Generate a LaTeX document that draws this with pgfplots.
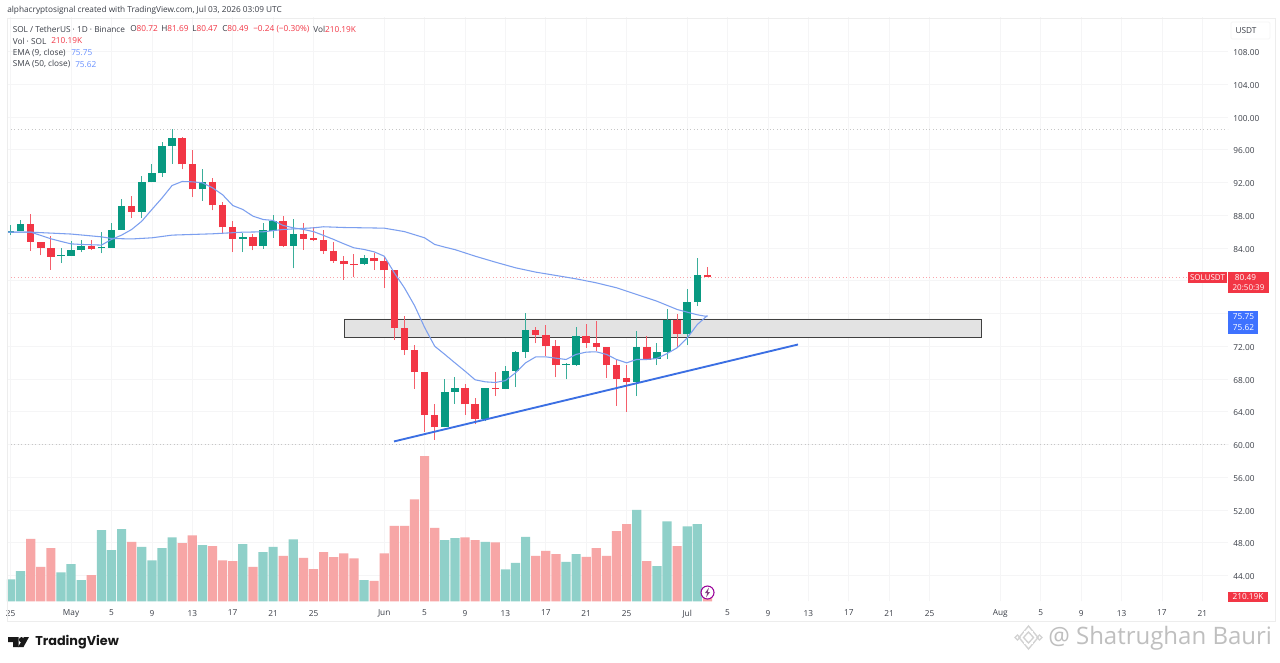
\documentclass[border=0pt]{standalone}
\usepackage{fontspec}
\setmainfont{Open Sans}
\newfontfamily\tvfont{Poppins}
\usepackage{pgfplots}
\usepackage{pgfplotstable}
\pgfplotsset{compat=1.18}

\definecolor{tvgreen}{HTML}{089981}
\definecolor{tvred}{HTML}{F23645}
\definecolor{wickgreen}{HTML}{3AAE9A}
\definecolor{wickred}{HTML}{F45F6B}
\definecolor{volgreen}{HTML}{8FD0C9}
\definecolor{volred}{HTML}{F7A6A6}
\definecolor{maline}{HTML}{7C9FEF}
\definecolor{trend}{HTML}{3B6FE3}
\definecolor{tvblue}{HTML}{2962FF}
\definecolor{tvgrid}{HTML}{F5F5F6}
\definecolor{tvtext}{HTML}{3A3E47}

% d = days since 25 Apr: open high low close volume(K)
\pgfplotstableread{
d o h l c v
0 85.85 86.75 85.53 86.05 840
1 86.05 87.36 86.05 86.90 1157
5 83.00 84.00 82.15 83.10 1108
6 83.05 84.90 83.05 83.80 1425
7 83.75 84.95 83.50 84.30 814
9 83.95 85.95 83.35 84.10 2724
10 84.05 87.00 84.00 86.25 1960
11 86.20 90.00 86.20 89.15 2762
13 88.40 92.85 87.65 92.05 2090
14 92.00 94.20 92.00 93.15 1566
15 93.10 97.00 92.70 96.50 2036
16 96.45 98.50 94.30 97.40 2445
19 91.15 93.65 89.75 92.10 2151
23 85.15 85.85 83.50 85.40 2189
25 84.25 87.05 83.90 86.15 1883
26 86.10 88.00 85.25 87.35 2090
28 84.30 87.55 81.50 85.75 2368
35 82.00 83.10 81.90 82.75 814
43 62.10 67.95 62.10 66.45 2342
44 66.45 68.20 65.00 66.85 2418
47 63.10 66.90 62.85 66.90 2281
49 66.80 69.55 66.75 68.95 1222
50 68.95 71.40 67.00 71.30 1478
51 71.30 76.10 70.60 74.00 2472
55 69.70 70.00 67.95 69.85 1517
56 69.70 74.30 69.60 73.20 1807
62 67.60 73.90 65.90 71.90 3503
64 70.40 72.40 69.70 71.35 1348
65 71.30 76.50 70.40 75.25 3056
67 73.55 78.95 72.20 77.45 2865
68 77.45 82.80 76.90 80.70 2953
}\upcandles

\pgfplotstableread{
d o h l c v
2 86.95 88.13 83.65 84.75 2395
3 84.75 84.75 83.10 84.00 1326
4 84.00 85.45 81.37 82.90 2036
8 84.30 85.00 83.75 83.85 1005
12 89.15 90.40 87.65 88.40 2281
17 97.40 97.60 93.60 94.20 2227
18 94.25 95.95 90.25 91.15 2521
20 92.10 92.55 88.60 89.20 2112
21 89.20 89.60 85.65 86.50 1566
22 86.50 87.30 83.50 85.10 1539
24 85.40 85.70 83.70 84.20 1326
27 87.35 87.90 84.10 84.30 1746
29 85.75 87.00 83.80 85.15 1669
30 85.20 86.60 84.85 85.00 1234
31 85.00 86.15 83.30 83.60 1883
32 83.60 84.75 82.20 82.35 1692
33 82.35 83.00 80.10 82.00 1834
34 82.10 83.30 80.40 82.00 1643
36 82.75 83.40 81.35 82.35 791
37 82.35 83.00 79.15 81.25 1834
38 81.25 81.30 72.75 74.20 2892
39 74.20 75.65 70.90 71.55 2892
40 71.55 72.10 66.80 68.85 3896
41 68.85 68.90 61.55 63.60 5550
42 63.60 64.90 60.60 62.10 2815
45 66.85 67.40 63.60 64.90 2445
46 64.90 65.70 62.45 63.10 2342
48 66.95 68.80 65.90 66.80 2254
52 74.00 74.40 72.35 73.35 1746
53 73.35 74.65 70.85 72.00 1937
54 72.00 72.70 68.20 69.70 1807
57 73.20 74.70 71.80 72.40 1708
58 72.45 75.10 71.40 71.90 2036
59 71.90 71.95 68.15 69.70 1746
60 69.70 70.40 64.75 68.00 2685
61 68.15 69.75 64.00 67.60 2953
63 71.90 73.25 70.30 70.35 1539
66 75.20 75.90 71.80 73.55 2112
69 80.72 81.69 80.47 80.49 210.19
}\downcandles

\pgfplotstableread{
d p
-1 85.93
0 85.93
2 85.93
3 85.53
4 85.12
5 84.80
6 84.50
7 84.43
9 84.35
10 85.04
11 85.57
12 86.26
13 87.27
14 88.70
15 90.10
16 91.63
17 92.12
18 92.08
19 91.96
20 91.35
21 90.50
22 89.19
23 88.70
24 87.89
25 87.48
26 87.36
27 86.75
28 86.46
29 86.26
30 86.00
31 85.53
32 85.04
33 84.51
34 84.02
35 83.82
36 83.53
37 83.00
38 80.96
39 79.13
40 76.97
41 74.30
42 72.00
43 71.00
44 69.97
45 68.96
46 67.90
47 67.65
48 67.57
49 67.80
50 68.75
51 69.97
52 70.70
53 70.70
54 70.54
55 70.38
56 71.00
57 71.28
58 71.32
59 71.00
60 70.38
61 69.97
62 70.38
63 70.38
64 70.50
65 71.10
66 71.80
67 73.00
68 74.65
69 75.75
}\emanine

\pgfplotstableread{
d p
-1 85.93
0 85.93
2 85.93
6 85.70
9 85.36
10 85.16
12 85.10
14 85.24
16 85.57
18 85.65
20 85.73
23 85.93
25 85.97
27 86.26
30 86.46
31 86.59
33 86.50
37 86.42
39 86.00
41 85.24
42 84.43
43 84.10
44 83.80
46 83.00
48 82.27
50 81.58
52 81.05
54 80.64
56 80.23
58 79.74
60 79.14
62 78.32
64 77.50
66 76.49
67 76.16
68 75.84
69 75.62
}\smafifty

\newcommand{\lab}[4][tvtext]{\node[anchor=west,inner sep=0pt,text=#1,font=\fontsize{6.2}{7}\selectfont] at (#2,#3) {#4};}

% candle parts as error bars, wick low->high, body from lower edge of the body
\newcommand{\wicks}[2]{\addplot[draw=none,mark=none,forget plot,error bars/.cd,y dir=plus,y explicit,error mark=none,error bar style={draw=#2,line width=0.75pt,solid}] table[x=d,y=l,y error plus expr=\thisrow{h}-\thisrow{l}] {#1};}

\begin{document}
\begin{tikzpicture}
\path[use as bounding box,fill=white] (0,0) rectangle (960pt,-497.25pt);

\begin{axis}[
  at={(5.25pt,-451.1pt)},anchor=south west,
  scale only axis,width=915.75pt,height=438pt,
  xmin=-0.3465,xmax=120.545,ymin=40.824,ymax=112.153,
  axis line style={draw=none},
  major tick length=0pt,
  grid=major,grid style={tvgrid,line width=0.5pt},
  xtick={0,6,10,14,18,22,26,30,37,41,45,49,53,57,61,67,71,75,79,83,87,91,98,102,106,110,114,118},
  xticklabels={25,May,5,9,13,17,21,25,Jun,5,9,13,17,21,25,Jul,5,9,13,17,21,25,Aug,5,9,13,17,21},
  ytick={44,48,52,56,60,64,68,72,76,80,84,88,92,96,100,104,108},
  yticklabels={44.00,48.00,52.00,56.00,60.00,64.00,68.00,72.00,{},{},84.00,88.00,92.00,96.00,100.00,104.00,108.00},
  yticklabel pos=right,
  tick label style={font=\fontsize{6.2}{7}\selectfont,text=tvtext},
  xticklabel style={yshift=-2.9pt},
  yticklabel style={xshift=0.5pt,yshift=-1pt},
  clip=true,
]
% zone
\addplot[draw=black!75,line width=0.6pt,fill=gray!22] coordinates {(33.02,73.1)(96.09,73.1)(96.09,75.33)(33.02,75.33)(33.02,73.1)};
% dotted levels
\addplot[gray!45,line width=0.6pt,dotted] coordinates {(-1,98.47)(121,98.47)};
\addplot[gray!45,line width=0.6pt,dotted] coordinates {(-1,60.0)(121,60.0)};
\addplot[tvred!45,line width=0.6pt,dotted] coordinates {(-1,80.45)(121,80.45)};

\wicks{\upcandles}{wickgreen}
\wicks{\downcandles}{wickred}
% bodies
\addplot[draw=none,mark=none,forget plot,error bars/.cd,y dir=plus,y explicit,error mark=none,error bar style={draw=tvgreen,line width=5.6pt,solid}] table[x=d,y=o,y error plus expr=\thisrow{c}-\thisrow{o}] {\upcandles};
\addplot[draw=none,mark=none,forget plot,error bars/.cd,y dir=plus,y explicit,error mark=none,error bar style={draw=tvred,line width=5.6pt,solid}] table[x=d,y=c,y error plus expr=\thisrow{o}-\thisrow{c}] {\downcandles};

\addplot[maline,line width=0.8pt] table[x=d,y=p] {\smafifty};
\addplot[maline,line width=0.8pt] table[x=d,y=p] {\emanine};
\addplot[trend,line width=1.4pt] coordinates {(37.97,60.37)(77.97,72.21)};
\end{axis}

% volume pane, same x range
\begin{axis}[
  at={(5.25pt,-451.1pt)},anchor=south west,
  scale only axis,width=915.75pt,height=438pt,
  xmin=-0.3465,xmax=120.545,ymin=0,ymax=22309,
  hide axis,
  ybar,bar width=6.9pt,bar shift=0pt,
]
\addplot[fill=volgreen,draw=none] table[x=d,y=v] {\upcandles};
\addplot[fill=volred,draw=none] table[x=d,y=v] {\downcandles};
\end{axis}

\begin{scope}[x=0.75pt,y=-0.75pt]
% frame
\draw[tvgrid!70!gray!40,line width=0.5pt] (7,18) rectangle (1275,621);

\lab{7}{10}{alphacryptosignal created with TradingView.com, Jul 03, 2026 03:09 UTC}

\lab{12.5}{29}{SOL / TetherUS · 1D · Binance}
\lab{130}{29}{O\textcolor{tvred}{80.72}}
\lab{161}{29}{H\textcolor{tvred}{81.69}}
\lab{192}{29}{L\textcolor{tvred}{80.47}}
\lab{222}{29}{C\textcolor{tvred}{80.49}}
\lab[tvred]{253}{29}{−0.24 (−0.30\%)}
\lab{313}{29}{Vol\textcolor{tvred}{210.19K}}
\lab{12.5}{41}{Vol · SOL}
\lab[tvred]{51}{41}{210.19K}
\lab{12.5}{53}{EMA (9, close)}
\lab[tvblue!70]{71}{53}{75.75}
\lab{12.5}{64.5}{SMA (50, close)}
\lab[tvblue!70]{75}{64.5}{75.62}

% scale tags
\draw[tvgrid,fill=white,line width=0.5pt,rounded corners=1pt] (1231,22) rectangle (1270,39);
\node[inner sep=0pt,text=tvtext,font=\fontsize{6.2}{7}\selectfont] at (1246,31) {USDT};
\fill[tvred] (1188,272) rectangle (1227,283);
\node[inner sep=0pt,text=white,font=\fontsize{6}{7}\selectfont] at (1207.5,277.5) {SOLUSDT};
\fill[tvred] (1228,272) rectangle (1269,293);
\node[inner sep=0pt,text=white,font=\fontsize{6.2}{7}\selectfont] at (1245.5,277.5) {80.49};
\node[inner sep=0pt,text=white,font=\fontsize{6}{7}\selectfont] at (1248.5,288) {20:50:39};
\fill[tvblue!90!white] (1228,311) rectangle (1258,334);
\node[inner sep=0pt,text=white,font=\fontsize{6.2}{7}\selectfont] at (1243.5,316.5) {75.75};
\node[inner sep=0pt,text=white,font=\fontsize{6.2}{7}\selectfont] at (1243.5,328) {75.62};
\fill[tvred] (1228,592) rectangle (1268,602);
\node[inner sep=0pt,text=white,font=\fontsize{6.2}{7}\selectfont] at (1248,597) {210.19K};

% bolt icon
\draw[violet!80!magenta,fill=white,line width=0.8pt] (707.5,592.5) circle (6.5);
\fill[violet!50!gray] (709,587.5) -- (705,593) -- (707.3,593) -- (706,597.5) -- (710,592) -- (707.7,592) -- cycle;

% TradingView logo
\fill[black!90] (8,637) -- (18.5,637) -- (18.5,647) -- (13,647) -- (13,642) -- (8,642) -- cycle;
\fill[black!90] (21.5,639.7) circle (2.6);
\fill[black!90] (24,637) -- (29,637) -- (23.5,647) -- (18,647) -- cycle;
\node[anchor=west,inner sep=0pt,text=black!90,font=\tvfont\bfseries\fontsize{9.6}{12}\selectfont] at (35,642) {TradingView};

% watermark
\begin{scope}[gray!35,line width=1pt]
\draw (1028.5,626) -- (1038,637.5) -- (1028.5,649) -- (1019,637.5) -- cycle;
\fill[white] (1024,631) rectangle (1033,644);
\draw (1028.5,632) -- (1033.5,637.5) -- (1028.5,643) -- (1023.5,637.5) -- cycle;
\draw (1015,637.5) -- (1017.5,635) -- (1020,637.5) -- (1017.5,640) -- cycle;
\draw (1037,637.5) -- (1039.5,635) -- (1042,637.5) -- (1039.5,640) -- cycle;
\end{scope}
\node[anchor=west,inner sep=0pt,text=gray!50,font=\fontsize{18}{20}\selectfont] at (1048,638) {@ Shatrughan Bauri};
\end{scope}
\end{tikzpicture}
\end{document}
